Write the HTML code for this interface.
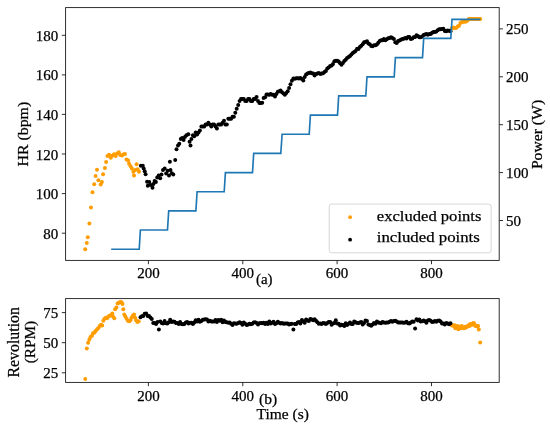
<!DOCTYPE html>
<html><head><meta charset="utf-8"><title>HR and Power plot</title>
<style>html,body{margin:0;padding:0;background:#fff}body{width:550px;height:428px;overflow:hidden}</style></head>
<body>
<svg width="550" height="428" viewBox="0 0 550 428" style="display:block">
<rect width="550" height="428" fill="#fff"/>
<g fill="#ff9d00"><circle cx="85.2" cy="249.3" r="1.98"/><circle cx="86.8" cy="242.9" r="1.98"/><circle cx="87.8" cy="237.3" r="1.98"/><circle cx="89.4" cy="223.6" r="1.98"/><circle cx="91.0" cy="207.6" r="1.98"/><circle cx="92.5" cy="192.2" r="1.98"/><circle cx="94.2" cy="184.2" r="1.98"/><circle cx="95.6" cy="176.1" r="1.98"/><circle cx="97.0" cy="169.8" r="1.98"/><circle cx="98.4" cy="180.3" r="1.98"/><circle cx="100.7" cy="184.5" r="1.98"/><circle cx="101.9" cy="182.0" r="1.98"/><circle cx="103.1" cy="174.2" r="1.98"/><circle cx="104.9" cy="168.1" r="1.98"/><circle cx="106.1" cy="162.0" r="1.98"/><circle cx="107.5" cy="156.0" r="1.98"/><circle cx="109.1" cy="154.7" r="1.98"/><circle cx="110.8" cy="157.8" r="1.98"/><circle cx="112.2" cy="155.7" r="1.98"/><circle cx="114.0" cy="154.3" r="1.98"/><circle cx="115.7" cy="156.0" r="1.98"/><circle cx="117.1" cy="153.6" r="1.98"/><circle cx="118.8" cy="152.2" r="1.98"/><circle cx="120.2" cy="155.0" r="1.98"/><circle cx="122.0" cy="155.4" r="1.98"/><circle cx="123.8" cy="154.3" r="1.98"/><circle cx="125.0" cy="154.0" r="1.98"/><circle cx="126.5" cy="159.6" r="1.98"/><circle cx="128.2" cy="160.5" r="1.98"/><circle cx="129.1" cy="163.7" r="1.98"/><circle cx="130.6" cy="166.2" r="1.98"/><circle cx="131.9" cy="168.6" r="1.98"/><circle cx="133.4" cy="171.8" r="1.98"/><circle cx="134.0" cy="175.5" r="1.98"/><circle cx="135.3" cy="169.9" r="1.98"/><circle cx="136.6" cy="164.3" r="1.98"/><circle cx="137.7" cy="169.3" r="1.98"/><circle cx="139.0" cy="171.8" r="1.98"/><circle cx="451.9" cy="28.6" r="1.98"/><circle cx="453.3" cy="27.6" r="1.98"/><circle cx="454.7" cy="28.1" r="1.98"/><circle cx="456.1" cy="27.9" r="1.98"/><circle cx="457.6" cy="26.5" r="1.98"/><circle cx="459.0" cy="25.8" r="1.98"/><circle cx="460.4" cy="23.1" r="1.98"/><circle cx="461.8" cy="22.1" r="1.98"/><circle cx="463.2" cy="21.7" r="1.98"/><circle cx="464.6" cy="21.7" r="1.98"/><circle cx="466.0" cy="21.6" r="1.98"/><circle cx="467.5" cy="20.5" r="1.98"/><circle cx="468.9" cy="19.0" r="1.98"/><circle cx="470.3" cy="19.0" r="1.98"/><circle cx="471.7" cy="19.0" r="1.98"/><circle cx="473.1" cy="19.0" r="1.98"/><circle cx="474.5" cy="19.0" r="1.98"/><circle cx="476.0" cy="19.0" r="1.98"/><circle cx="477.4" cy="19.0" r="1.98"/><circle cx="478.8" cy="19.0" r="1.98"/><circle cx="480.2" cy="19.0" r="1.98"/></g>
<g fill="#000"><circle cx="140.9" cy="165.8" r="1.98"/><circle cx="142.8" cy="165.8" r="1.98"/><circle cx="143.7" cy="168.6" r="1.98"/><circle cx="144.7" cy="171.2" r="1.98"/><circle cx="145.6" cy="174.2" r="1.98"/><circle cx="147.1" cy="181.7" r="1.98"/><circle cx="147.8" cy="185.8" r="1.98"/><circle cx="149.3" cy="182.1" r="1.98"/><circle cx="150.8" cy="184.9" r="1.98"/><circle cx="152.5" cy="187.7" r="1.98"/><circle cx="153.4" cy="183.9" r="1.98"/><circle cx="154.6" cy="181.1" r="1.98"/><circle cx="155.9" cy="182.1" r="1.98"/><circle cx="157.2" cy="177.4" r="1.98"/><circle cx="158.7" cy="175.5" r="1.98"/><circle cx="160.2" cy="178.3" r="1.98"/><circle cx="161.5" cy="174.6" r="1.98"/><circle cx="163.0" cy="169.9" r="1.98"/><circle cx="164.7" cy="168.6" r="1.98"/><circle cx="166.2" cy="173.6" r="1.98"/><circle cx="167.7" cy="170.8" r="1.98"/><circle cx="169.0" cy="175.5" r="1.98"/><circle cx="170.5" cy="169.9" r="1.98"/><circle cx="169.9" cy="161.8" r="1.98"/><circle cx="171.8" cy="173.3" r="1.98"/><circle cx="173.3" cy="174.6" r="1.98"/><circle cx="175.2" cy="160.0" r="1.98"/><circle cx="176.5" cy="149.3" r="1.98"/><circle cx="178.0" cy="145.6" r="1.98"/><circle cx="179.3" cy="143.7" r="1.98"/><circle cx="180.8" cy="139.0" r="1.98"/><circle cx="182.1" cy="138.1" r="1.98"/><circle cx="183.6" cy="140.0" r="1.98"/><circle cx="184.9" cy="137.1" r="1.98"/><circle cx="186.4" cy="135.3" r="1.98"/><circle cx="188.3" cy="134.3" r="1.98"/><circle cx="189.6" cy="141.8" r="1.98"/><circle cx="190.5" cy="145.6" r="1.98"/><circle cx="191.4" cy="139.0" r="1.98"/><circle cx="192.9" cy="135.3" r="1.98"/><circle cx="194.3" cy="136.2" r="1.98"/><circle cx="195.7" cy="132.6" r="1.98"/><circle cx="197.1" cy="134.5" r="1.98"/><circle cx="198.5" cy="132.6" r="1.98"/><circle cx="199.9" cy="130.6" r="1.98"/><circle cx="201.4" cy="126.6" r="1.98"/><circle cx="202.8" cy="126.6" r="1.98"/><circle cx="204.2" cy="126.6" r="1.98"/><circle cx="205.6" cy="124.6" r="1.98"/><circle cx="207.0" cy="124.6" r="1.98"/><circle cx="208.4" cy="122.7" r="1.98"/><circle cx="209.9" cy="124.6" r="1.98"/><circle cx="211.3" cy="126.6" r="1.98"/><circle cx="212.7" cy="124.6" r="1.98"/><circle cx="214.1" cy="124.6" r="1.98"/><circle cx="215.5" cy="126.6" r="1.98"/><circle cx="216.9" cy="128.6" r="1.98"/><circle cx="218.3" cy="124.6" r="1.98"/><circle cx="219.8" cy="124.6" r="1.98"/><circle cx="221.2" cy="124.6" r="1.98"/><circle cx="222.6" cy="122.7" r="1.98"/><circle cx="224.0" cy="120.7" r="1.98"/><circle cx="225.4" cy="124.6" r="1.98"/><circle cx="226.8" cy="124.6" r="1.98"/><circle cx="228.3" cy="118.7" r="1.98"/><circle cx="229.7" cy="118.7" r="1.98"/><circle cx="231.1" cy="118.7" r="1.98"/><circle cx="232.5" cy="116.7" r="1.98"/><circle cx="233.9" cy="116.7" r="1.98"/><circle cx="235.3" cy="112.8" r="1.98"/><circle cx="236.7" cy="108.8" r="1.98"/><circle cx="238.2" cy="104.9" r="1.98"/><circle cx="239.6" cy="100.9" r="1.98"/><circle cx="241.0" cy="98.9" r="1.98"/><circle cx="242.4" cy="98.9" r="1.98"/><circle cx="243.8" cy="98.9" r="1.98"/><circle cx="245.2" cy="100.9" r="1.98"/><circle cx="246.7" cy="100.9" r="1.98"/><circle cx="248.1" cy="98.9" r="1.98"/><circle cx="249.5" cy="98.9" r="1.98"/><circle cx="250.9" cy="100.9" r="1.98"/><circle cx="252.3" cy="100.9" r="1.98"/><circle cx="253.7" cy="98.9" r="1.98"/><circle cx="255.1" cy="98.9" r="1.98"/><circle cx="256.6" cy="96.9" r="1.98"/><circle cx="258.0" cy="100.9" r="1.98"/><circle cx="259.4" cy="102.9" r="1.98"/><circle cx="260.8" cy="102.9" r="1.98"/><circle cx="262.2" cy="102.8" r="1.98"/><circle cx="263.6" cy="97.9" r="1.98"/><circle cx="265.1" cy="97.3" r="1.98"/><circle cx="266.5" cy="94.5" r="1.98"/><circle cx="267.9" cy="94.5" r="1.98"/><circle cx="269.3" cy="94.8" r="1.98"/><circle cx="270.7" cy="93.9" r="1.98"/><circle cx="272.1" cy="94.8" r="1.98"/><circle cx="273.5" cy="94.7" r="1.98"/><circle cx="275.0" cy="96.6" r="1.98"/><circle cx="276.4" cy="94.0" r="1.98"/><circle cx="277.8" cy="91.8" r="1.98"/><circle cx="279.2" cy="91.3" r="1.98"/><circle cx="280.6" cy="90.6" r="1.98"/><circle cx="282.0" cy="92.3" r="1.98"/><circle cx="283.5" cy="93.4" r="1.98"/><circle cx="284.9" cy="94.7" r="1.98"/><circle cx="286.3" cy="93.1" r="1.98"/><circle cx="287.7" cy="91.2" r="1.98"/><circle cx="289.1" cy="87.9" r="1.98"/><circle cx="290.5" cy="84.2" r="1.98"/><circle cx="291.9" cy="80.8" r="1.98"/><circle cx="293.4" cy="78.6" r="1.98"/><circle cx="294.8" cy="78.8" r="1.98"/><circle cx="296.2" cy="78.2" r="1.98"/><circle cx="297.6" cy="78.3" r="1.98"/><circle cx="299.0" cy="78.4" r="1.98"/><circle cx="300.4" cy="78.1" r="1.98"/><circle cx="301.9" cy="79.0" r="1.98"/><circle cx="303.3" cy="80.4" r="1.98"/><circle cx="304.7" cy="76.9" r="1.98"/><circle cx="306.1" cy="74.6" r="1.98"/><circle cx="307.5" cy="73.6" r="1.98"/><circle cx="308.9" cy="73.0" r="1.98"/><circle cx="310.3" cy="72.4" r="1.98"/><circle cx="311.8" cy="73.3" r="1.98"/><circle cx="313.2" cy="73.4" r="1.98"/><circle cx="314.6" cy="75.6" r="1.98"/><circle cx="316.0" cy="73.9" r="1.98"/><circle cx="317.4" cy="73.6" r="1.98"/><circle cx="318.8" cy="72.9" r="1.98"/><circle cx="320.3" cy="74.1" r="1.98"/><circle cx="321.7" cy="73.5" r="1.98"/><circle cx="323.1" cy="73.3" r="1.98"/><circle cx="324.5" cy="72.1" r="1.98"/><circle cx="325.9" cy="71.0" r="1.98"/><circle cx="327.3" cy="68.6" r="1.98"/><circle cx="328.7" cy="67.4" r="1.98"/><circle cx="330.2" cy="65.9" r="1.98"/><circle cx="331.6" cy="65.4" r="1.98"/><circle cx="333.0" cy="64.1" r="1.98"/><circle cx="334.4" cy="61.3" r="1.98"/><circle cx="335.8" cy="60.7" r="1.98"/><circle cx="337.2" cy="60.8" r="1.98"/><circle cx="338.7" cy="61.4" r="1.98"/><circle cx="340.1" cy="63.2" r="1.98"/><circle cx="341.5" cy="64.8" r="1.98"/><circle cx="342.9" cy="63.0" r="1.98"/><circle cx="344.3" cy="61.0" r="1.98"/><circle cx="345.7" cy="59.8" r="1.98"/><circle cx="347.1" cy="57.9" r="1.98"/><circle cx="348.6" cy="56.9" r="1.98"/><circle cx="350.0" cy="56.1" r="1.98"/><circle cx="351.4" cy="54.5" r="1.98"/><circle cx="352.8" cy="52.9" r="1.98"/><circle cx="354.2" cy="51.9" r="1.98"/><circle cx="355.6" cy="50.9" r="1.98"/><circle cx="357.1" cy="48.7" r="1.98"/><circle cx="358.5" cy="48.9" r="1.98"/><circle cx="359.9" cy="47.1" r="1.98"/><circle cx="361.3" cy="45.7" r="1.98"/><circle cx="362.7" cy="44.3" r="1.98"/><circle cx="364.1" cy="42.3" r="1.98"/><circle cx="365.5" cy="41.9" r="1.98"/><circle cx="367.0" cy="41.2" r="1.98"/><circle cx="368.4" cy="43.5" r="1.98"/><circle cx="369.8" cy="44.2" r="1.98"/><circle cx="371.2" cy="46.0" r="1.98"/><circle cx="372.6" cy="46.2" r="1.98"/><circle cx="374.0" cy="45.3" r="1.98"/><circle cx="375.5" cy="45.3" r="1.98"/><circle cx="376.9" cy="44.5" r="1.98"/><circle cx="378.3" cy="42.7" r="1.98"/><circle cx="379.7" cy="41.1" r="1.98"/><circle cx="381.1" cy="40.2" r="1.98"/><circle cx="382.5" cy="40.2" r="1.98"/><circle cx="383.9" cy="39.1" r="1.98"/><circle cx="385.4" cy="40.2" r="1.98"/><circle cx="386.8" cy="39.3" r="1.98"/><circle cx="388.2" cy="38.2" r="1.98"/><circle cx="389.6" cy="37.9" r="1.98"/><circle cx="391.0" cy="37.2" r="1.98"/><circle cx="392.4" cy="38.0" r="1.98"/><circle cx="393.9" cy="39.0" r="1.98"/><circle cx="395.3" cy="42.3" r="1.98"/><circle cx="396.7" cy="43.0" r="1.98"/><circle cx="398.1" cy="41.0" r="1.98"/><circle cx="399.5" cy="40.4" r="1.98"/><circle cx="400.9" cy="39.8" r="1.98"/><circle cx="402.3" cy="39.1" r="1.98"/><circle cx="403.8" cy="38.7" r="1.98"/><circle cx="405.2" cy="38.0" r="1.98"/><circle cx="406.6" cy="38.6" r="1.98"/><circle cx="408.0" cy="37.0" r="1.98"/><circle cx="409.4" cy="36.9" r="1.98"/><circle cx="410.8" cy="38.9" r="1.98"/><circle cx="412.3" cy="38.5" r="1.98"/><circle cx="413.7" cy="37.3" r="1.98"/><circle cx="415.1" cy="37.0" r="1.98"/><circle cx="416.5" cy="35.2" r="1.98"/><circle cx="417.9" cy="36.1" r="1.98"/><circle cx="419.3" cy="37.2" r="1.98"/><circle cx="420.7" cy="37.3" r="1.98"/><circle cx="422.2" cy="36.5" r="1.98"/><circle cx="423.6" cy="35.0" r="1.98"/><circle cx="425.0" cy="34.6" r="1.98"/><circle cx="426.4" cy="33.9" r="1.98"/><circle cx="427.8" cy="34.7" r="1.98"/><circle cx="429.2" cy="33.9" r="1.98"/><circle cx="430.7" cy="33.9" r="1.98"/><circle cx="432.1" cy="32.7" r="1.98"/><circle cx="433.5" cy="31.9" r="1.98"/><circle cx="434.9" cy="32.1" r="1.98"/><circle cx="436.3" cy="31.4" r="1.98"/><circle cx="437.7" cy="30.2" r="1.98"/><circle cx="439.2" cy="29.3" r="1.98"/><circle cx="440.6" cy="29.2" r="1.98"/><circle cx="442.0" cy="29.0" r="1.98"/><circle cx="443.4" cy="28.8" r="1.98"/><circle cx="444.8" cy="30.9" r="1.98"/><circle cx="446.2" cy="31.2" r="1.98"/><circle cx="447.6" cy="30.6" r="1.98"/><circle cx="449.1" cy="30.7" r="1.98"/><circle cx="450.5" cy="31.2" r="1.98"/></g>

<path d="M111.2 249.2 H139.2 L140.4 230.0 H167.5 L168.7 210.9 H195.9 L197.1 191.7 H224.2 L225.4 172.6 H252.5 L253.7 153.4 H280.8 L282.1 134.2 H309.2 L310.4 115.1 H337.5 L338.7 95.9 H365.8 L367.0 76.8 H394.2 L395.4 57.6 H422.5 L423.7 38.4 H450.8 L452.0 19.3 H480.4" fill="none" stroke="#1f77b4" stroke-width="1.65" stroke-linejoin="miter"/>
<g fill="none" stroke="#1a1a1a" stroke-width="0.9">
<rect x="65.6" y="7.6" width="433.6" height="252.8"/>
<rect x="65.6" y="298.6" width="433.6" height="83.8"/>
<path d="M148.4 260.4v3.8"/>
<path d="M148.4 382.4v3.8"/>
<path d="M242.8 260.4v3.8"/>
<path d="M242.8 382.4v3.8"/>
<path d="M337.1 260.4v3.8"/>
<path d="M337.1 382.4v3.8"/>
<path d="M431.5 260.4v3.8"/>
<path d="M431.5 382.4v3.8"/>
<path d="M65.6 233.2h-3.8"/>
<path d="M65.6 193.6h-3.8"/>
<path d="M65.6 154.0h-3.8"/>
<path d="M65.6 114.4h-3.8"/>
<path d="M65.6 74.9h-3.8"/>
<path d="M65.6 35.3h-3.8"/>
<path d="M499.2 220.5h3.8"/>
<path d="M499.2 172.6h3.8"/>
<path d="M499.2 124.7h3.8"/>
<path d="M499.2 76.8h3.8"/>
<path d="M499.2 28.9h3.8"/>
<path d="M65.6 372.8h-3.8"/>
<path d="M65.6 342.7h-3.8"/>
<path d="M65.6 312.6h-3.8"/>
</g>
<g fill="#ff9d00"><circle cx="85.3" cy="379.1" r="1.98"/><circle cx="86.8" cy="348.6" r="1.98"/><circle cx="88.1" cy="342.7" r="1.98"/><circle cx="89.4" cy="339.6" r="1.98"/><circle cx="90.4" cy="337.0" r="1.98"/><circle cx="92.0" cy="335.7" r="1.98"/><circle cx="93.0" cy="333.2" r="1.98"/><circle cx="94.5" cy="332.4" r="1.98"/><circle cx="95.6" cy="331.1" r="1.98"/><circle cx="97.1" cy="329.3" r="1.98"/><circle cx="98.4" cy="328.0" r="1.98"/><circle cx="99.7" cy="326.0" r="1.98"/><circle cx="101.0" cy="324.7" r="1.98"/><circle cx="102.2" cy="325.4" r="1.98"/><circle cx="103.3" cy="320.8" r="1.98"/><circle cx="104.5" cy="318.8" r="1.98"/><circle cx="105.8" cy="317.7" r="1.98"/><circle cx="107.1" cy="318.3" r="1.98"/><circle cx="108.4" cy="316.5" r="1.98"/><circle cx="109.7" cy="315.7" r="1.98"/><circle cx="111.0" cy="315.2" r="1.98"/><circle cx="112.3" cy="313.6" r="1.98"/><circle cx="113.0" cy="316.5" r="1.98"/><circle cx="114.3" cy="318.3" r="1.98"/><circle cx="115.1" cy="309.3" r="1.98"/><circle cx="116.4" cy="307.5" r="1.98"/><circle cx="117.6" cy="303.4" r="1.98"/><circle cx="118.9" cy="302.8" r="1.98"/><circle cx="120.2" cy="302.1" r="1.98"/><circle cx="121.5" cy="302.3" r="1.98"/><circle cx="122.5" cy="304.1" r="1.98"/><circle cx="123.3" cy="309.3" r="1.98"/><circle cx="124.3" cy="314.4" r="1.98"/><circle cx="125.4" cy="316.5" r="1.98"/><circle cx="126.6" cy="318.8" r="1.98"/><circle cx="127.9" cy="320.8" r="1.98"/><circle cx="129.2" cy="321.3" r="1.98"/><circle cx="130.5" cy="320.3" r="1.98"/><circle cx="131.5" cy="317.7" r="1.98"/><circle cx="132.8" cy="315.7" r="1.98"/><circle cx="134.1" cy="314.4" r="1.98"/><circle cx="135.1" cy="317.7" r="1.98"/><circle cx="136.1" cy="320.3" r="1.98"/><circle cx="137.4" cy="322.1" r="1.98"/><circle cx="138.7" cy="321.3" r="1.98"/><circle cx="451.9" cy="325.4" r="1.98"/><circle cx="453.3" cy="325.5" r="1.98"/><circle cx="454.0" cy="326.1" r="1.98"/><circle cx="454.7" cy="325.2" r="1.98"/><circle cx="455.4" cy="328.3" r="1.98"/><circle cx="456.1" cy="327.4" r="1.98"/><circle cx="456.8" cy="326.1" r="1.98"/><circle cx="457.6" cy="326.6" r="1.98"/><circle cx="458.3" cy="329.2" r="1.98"/><circle cx="459.0" cy="326.4" r="1.98"/><circle cx="459.7" cy="327.8" r="1.98"/><circle cx="460.4" cy="328.2" r="1.98"/><circle cx="461.1" cy="327.3" r="1.98"/><circle cx="461.8" cy="326.1" r="1.98"/><circle cx="462.5" cy="327.8" r="1.98"/><circle cx="463.2" cy="327.8" r="1.98"/><circle cx="463.9" cy="328.3" r="1.98"/><circle cx="464.6" cy="327.8" r="1.98"/><circle cx="465.3" cy="326.7" r="1.98"/><circle cx="466.0" cy="327.4" r="1.98"/><circle cx="466.8" cy="326.7" r="1.98"/><circle cx="467.5" cy="326.2" r="1.98"/><circle cx="468.2" cy="325.8" r="1.98"/><circle cx="468.9" cy="325.3" r="1.98"/><circle cx="469.6" cy="326.0" r="1.98"/><circle cx="470.3" cy="324.0" r="1.98"/><circle cx="471.0" cy="324.3" r="1.98"/><circle cx="471.7" cy="324.8" r="1.98"/><circle cx="472.4" cy="323.4" r="1.98"/><circle cx="473.1" cy="324.5" r="1.98"/><circle cx="473.8" cy="323.0" r="1.98"/><circle cx="474.5" cy="324.3" r="1.98"/><circle cx="475.2" cy="325.7" r="1.98"/><circle cx="476.0" cy="326.1" r="1.98"/><circle cx="476.7" cy="326.1" r="1.98"/><circle cx="477.4" cy="326.6" r="1.98"/><circle cx="478.1" cy="326.1" r="1.98"/><circle cx="478.8" cy="329.5" r="1.98"/><circle cx="480.2" cy="342.6" r="1.98"/></g>
<g fill="#000"><circle cx="140.5" cy="317.3" r="1.98"/><circle cx="141.9" cy="316.3" r="1.98"/><circle cx="143.3" cy="316.0" r="1.98"/><circle cx="144.7" cy="313.8" r="1.98"/><circle cx="146.2" cy="313.4" r="1.98"/><circle cx="147.6" cy="316.0" r="1.98"/><circle cx="149.0" cy="315.9" r="1.98"/><circle cx="150.4" cy="317.6" r="1.98"/><circle cx="151.8" cy="319.0" r="1.98"/><circle cx="153.2" cy="323.0" r="1.98"/><circle cx="154.7" cy="323.1" r="1.98"/><circle cx="156.1" cy="324.0" r="1.98"/><circle cx="157.5" cy="322.1" r="1.98"/><circle cx="158.9" cy="329.6" r="1.98"/><circle cx="160.3" cy="321.6" r="1.98"/><circle cx="161.7" cy="323.0" r="1.98"/><circle cx="163.1" cy="323.4" r="1.98"/><circle cx="164.6" cy="321.1" r="1.98"/><circle cx="166.0" cy="323.3" r="1.98"/><circle cx="167.4" cy="323.5" r="1.98"/><circle cx="168.8" cy="322.2" r="1.98"/><circle cx="170.2" cy="319.8" r="1.98"/><circle cx="171.6" cy="322.1" r="1.98"/><circle cx="173.1" cy="321.5" r="1.98"/><circle cx="174.5" cy="321.8" r="1.98"/><circle cx="175.9" cy="322.9" r="1.98"/><circle cx="177.3" cy="323.1" r="1.98"/><circle cx="178.7" cy="324.1" r="1.98"/><circle cx="180.1" cy="322.0" r="1.98"/><circle cx="181.5" cy="323.9" r="1.98"/><circle cx="183.0" cy="324.2" r="1.98"/><circle cx="184.4" cy="324.1" r="1.98"/><circle cx="185.8" cy="322.6" r="1.98"/><circle cx="187.2" cy="322.0" r="1.98"/><circle cx="188.6" cy="323.4" r="1.98"/><circle cx="190.0" cy="322.7" r="1.98"/><circle cx="191.5" cy="322.8" r="1.98"/><circle cx="192.9" cy="324.0" r="1.98"/><circle cx="194.3" cy="322.5" r="1.98"/><circle cx="195.7" cy="320.3" r="1.98"/><circle cx="197.1" cy="321.5" r="1.98"/><circle cx="198.5" cy="319.7" r="1.98"/><circle cx="199.9" cy="321.7" r="1.98"/><circle cx="201.4" cy="320.9" r="1.98"/><circle cx="202.8" cy="319.7" r="1.98"/><circle cx="204.2" cy="319.5" r="1.98"/><circle cx="205.6" cy="319.2" r="1.98"/><circle cx="207.0" cy="319.4" r="1.98"/><circle cx="208.4" cy="321.4" r="1.98"/><circle cx="209.9" cy="320.7" r="1.98"/><circle cx="211.3" cy="321.4" r="1.98"/><circle cx="212.7" cy="321.5" r="1.98"/><circle cx="214.1" cy="321.5" r="1.98"/><circle cx="215.5" cy="320.1" r="1.98"/><circle cx="216.9" cy="321.9" r="1.98"/><circle cx="218.3" cy="320.0" r="1.98"/><circle cx="219.8" cy="320.7" r="1.98"/><circle cx="221.2" cy="319.8" r="1.98"/><circle cx="222.6" cy="322.3" r="1.98"/><circle cx="224.0" cy="320.5" r="1.98"/><circle cx="225.4" cy="322.0" r="1.98"/><circle cx="226.8" cy="322.3" r="1.98"/><circle cx="228.3" cy="322.8" r="1.98"/><circle cx="229.7" cy="322.6" r="1.98"/><circle cx="231.1" cy="323.7" r="1.98"/><circle cx="232.5" cy="325.0" r="1.98"/><circle cx="233.9" cy="323.3" r="1.98"/><circle cx="235.3" cy="323.5" r="1.98"/><circle cx="236.7" cy="323.8" r="1.98"/><circle cx="238.2" cy="323.0" r="1.98"/><circle cx="239.6" cy="322.3" r="1.98"/><circle cx="241.0" cy="323.1" r="1.98"/><circle cx="242.4" cy="324.7" r="1.98"/><circle cx="243.8" cy="322.6" r="1.98"/><circle cx="245.2" cy="323.7" r="1.98"/><circle cx="246.7" cy="325.0" r="1.98"/><circle cx="248.1" cy="324.6" r="1.98"/><circle cx="249.5" cy="323.8" r="1.98"/><circle cx="250.9" cy="324.3" r="1.98"/><circle cx="252.3" cy="323.7" r="1.98"/><circle cx="253.7" cy="322.6" r="1.98"/><circle cx="255.1" cy="322.3" r="1.98"/><circle cx="256.6" cy="323.1" r="1.98"/><circle cx="258.0" cy="324.4" r="1.98"/><circle cx="259.4" cy="323.3" r="1.98"/><circle cx="260.8" cy="323.1" r="1.98"/><circle cx="262.2" cy="323.3" r="1.98"/><circle cx="263.6" cy="322.8" r="1.98"/><circle cx="265.1" cy="323.9" r="1.98"/><circle cx="266.5" cy="322.8" r="1.98"/><circle cx="267.9" cy="323.9" r="1.98"/><circle cx="269.3" cy="321.4" r="1.98"/><circle cx="270.7" cy="323.6" r="1.98"/><circle cx="272.1" cy="322.7" r="1.98"/><circle cx="273.5" cy="321.7" r="1.98"/><circle cx="275.0" cy="324.0" r="1.98"/><circle cx="276.4" cy="323.3" r="1.98"/><circle cx="277.8" cy="321.7" r="1.98"/><circle cx="279.2" cy="322.8" r="1.98"/><circle cx="280.6" cy="323.6" r="1.98"/><circle cx="282.0" cy="322.9" r="1.98"/><circle cx="283.5" cy="323.8" r="1.98"/><circle cx="284.9" cy="323.6" r="1.98"/><circle cx="286.3" cy="323.6" r="1.98"/><circle cx="287.7" cy="323.5" r="1.98"/><circle cx="289.1" cy="324.6" r="1.98"/><circle cx="290.5" cy="324.1" r="1.98"/><circle cx="291.9" cy="323.8" r="1.98"/><circle cx="293.4" cy="329.6" r="1.98"/><circle cx="294.8" cy="323.9" r="1.98"/><circle cx="296.2" cy="324.1" r="1.98"/><circle cx="297.6" cy="322.5" r="1.98"/><circle cx="299.0" cy="321.9" r="1.98"/><circle cx="300.4" cy="323.5" r="1.98"/><circle cx="301.9" cy="319.9" r="1.98"/><circle cx="303.3" cy="321.4" r="1.98"/><circle cx="304.7" cy="322.7" r="1.98"/><circle cx="306.1" cy="319.5" r="1.98"/><circle cx="307.5" cy="320.5" r="1.98"/><circle cx="308.9" cy="321.1" r="1.98"/><circle cx="310.3" cy="319.1" r="1.98"/><circle cx="311.8" cy="319.5" r="1.98"/><circle cx="313.2" cy="320.2" r="1.98"/><circle cx="314.6" cy="319.2" r="1.98"/><circle cx="316.0" cy="320.8" r="1.98"/><circle cx="317.4" cy="322.2" r="1.98"/><circle cx="318.8" cy="323.7" r="1.98"/><circle cx="320.3" cy="323.5" r="1.98"/><circle cx="321.7" cy="324.0" r="1.98"/><circle cx="323.1" cy="323.1" r="1.98"/><circle cx="324.5" cy="323.3" r="1.98"/><circle cx="325.9" cy="323.9" r="1.98"/><circle cx="327.3" cy="322.9" r="1.98"/><circle cx="328.7" cy="322.0" r="1.98"/><circle cx="330.2" cy="321.9" r="1.98"/><circle cx="331.6" cy="324.8" r="1.98"/><circle cx="333.0" cy="323.5" r="1.98"/><circle cx="334.4" cy="323.0" r="1.98"/><circle cx="335.8" cy="320.3" r="1.98"/><circle cx="337.2" cy="323.4" r="1.98"/><circle cx="338.7" cy="323.8" r="1.98"/><circle cx="340.1" cy="325.4" r="1.98"/><circle cx="341.5" cy="324.8" r="1.98"/><circle cx="342.9" cy="324.9" r="1.98"/><circle cx="344.3" cy="325.9" r="1.98"/><circle cx="345.7" cy="323.2" r="1.98"/><circle cx="347.1" cy="325.0" r="1.98"/><circle cx="348.6" cy="323.8" r="1.98"/><circle cx="350.0" cy="322.6" r="1.98"/><circle cx="351.4" cy="324.0" r="1.98"/><circle cx="352.8" cy="324.0" r="1.98"/><circle cx="354.2" cy="321.4" r="1.98"/><circle cx="355.6" cy="322.2" r="1.98"/><circle cx="357.1" cy="323.1" r="1.98"/><circle cx="358.5" cy="323.1" r="1.98"/><circle cx="359.9" cy="322.6" r="1.98"/><circle cx="361.3" cy="322.1" r="1.98"/><circle cx="362.7" cy="324.5" r="1.98"/><circle cx="364.1" cy="322.9" r="1.98"/><circle cx="365.5" cy="320.4" r="1.98"/><circle cx="367.0" cy="321.0" r="1.98"/><circle cx="368.4" cy="324.6" r="1.98"/><circle cx="369.8" cy="325.0" r="1.98"/><circle cx="371.2" cy="325.7" r="1.98"/><circle cx="372.6" cy="324.6" r="1.98"/><circle cx="374.0" cy="323.0" r="1.98"/><circle cx="375.5" cy="323.7" r="1.98"/><circle cx="376.9" cy="321.4" r="1.98"/><circle cx="378.3" cy="322.4" r="1.98"/><circle cx="379.7" cy="322.8" r="1.98"/><circle cx="381.1" cy="323.2" r="1.98"/><circle cx="382.5" cy="322.0" r="1.98"/><circle cx="383.9" cy="322.4" r="1.98"/><circle cx="385.4" cy="322.7" r="1.98"/><circle cx="386.8" cy="322.4" r="1.98"/><circle cx="388.2" cy="322.4" r="1.98"/><circle cx="389.6" cy="321.7" r="1.98"/><circle cx="391.0" cy="321.0" r="1.98"/><circle cx="392.4" cy="321.7" r="1.98"/><circle cx="393.9" cy="320.9" r="1.98"/><circle cx="395.3" cy="320.7" r="1.98"/><circle cx="396.7" cy="321.4" r="1.98"/><circle cx="398.1" cy="322.4" r="1.98"/><circle cx="399.5" cy="322.4" r="1.98"/><circle cx="400.9" cy="322.6" r="1.98"/><circle cx="402.3" cy="322.5" r="1.98"/><circle cx="403.8" cy="322.7" r="1.98"/><circle cx="405.2" cy="322.6" r="1.98"/><circle cx="406.6" cy="321.7" r="1.98"/><circle cx="408.0" cy="323.2" r="1.98"/><circle cx="409.4" cy="323.4" r="1.98"/><circle cx="410.8" cy="322.5" r="1.98"/><circle cx="412.3" cy="321.6" r="1.98"/><circle cx="413.7" cy="321.8" r="1.98"/><circle cx="415.1" cy="328.4" r="1.98"/><circle cx="416.5" cy="319.2" r="1.98"/><circle cx="417.9" cy="320.5" r="1.98"/><circle cx="419.3" cy="319.4" r="1.98"/><circle cx="420.7" cy="321.6" r="1.98"/><circle cx="422.2" cy="321.2" r="1.98"/><circle cx="423.6" cy="320.5" r="1.98"/><circle cx="425.0" cy="321.2" r="1.98"/><circle cx="426.4" cy="322.8" r="1.98"/><circle cx="427.8" cy="320.5" r="1.98"/><circle cx="429.2" cy="319.9" r="1.98"/><circle cx="430.7" cy="320.7" r="1.98"/><circle cx="432.1" cy="322.0" r="1.98"/><circle cx="433.5" cy="321.8" r="1.98"/><circle cx="434.9" cy="321.1" r="1.98"/><circle cx="436.3" cy="321.7" r="1.98"/><circle cx="437.7" cy="320.8" r="1.98"/><circle cx="439.2" cy="320.6" r="1.98"/><circle cx="440.6" cy="321.6" r="1.98"/><circle cx="442.0" cy="323.4" r="1.98"/><circle cx="443.4" cy="323.6" r="1.98"/><circle cx="444.8" cy="324.5" r="1.98"/><circle cx="446.2" cy="322.9" r="1.98"/><circle cx="447.6" cy="323.5" r="1.98"/><circle cx="449.1" cy="324.2" r="1.98"/><circle cx="450.5" cy="323.2" r="1.98"/></g>

<g font-family="'Liberation Serif', serif" font-size="15" fill="#000" stroke="#000" stroke-width="0.25">
<text x="148.4" y="278.3" text-anchor="middle">200</text>
<text x="148.4" y="400.5" text-anchor="middle">200</text>
<text x="242.8" y="278.3" text-anchor="middle">400</text>
<text x="242.8" y="400.5" text-anchor="middle">400</text>
<text x="337.1" y="278.3" text-anchor="middle">600</text>
<text x="337.1" y="400.5" text-anchor="middle">600</text>
<text x="431.5" y="278.3" text-anchor="middle">800</text>
<text x="431.5" y="400.5" text-anchor="middle">800</text>
<text x="58.2" y="238.7" text-anchor="end">80</text>
<text x="58.2" y="199.1" text-anchor="end">100</text>
<text x="58.2" y="159.5" text-anchor="end">120</text>
<text x="58.2" y="119.9" text-anchor="end">140</text>
<text x="58.2" y="80.4" text-anchor="end">160</text>
<text x="58.2" y="40.8" text-anchor="end">180</text>
<text x="506" y="225.9">50</text>
<text x="506" y="178.0">100</text>
<text x="506" y="130.1">150</text>
<text x="506" y="82.2">200</text>
<text x="506" y="34.3">250</text>
<text x="58.2" y="377.9" text-anchor="end">25</text>
<text x="58.2" y="347.8" text-anchor="end">50</text>
<text x="58.2" y="317.8" text-anchor="end">75</text>
</g>
<g font-family="'Liberation Serif', serif" font-size="16" fill="#000" stroke="#000" stroke-width="0.25">
<text x="256" y="283.8" font-size="15.3" textLength="16.6" lengthAdjust="spacingAndGlyphs">(a)</text>
<text x="259" y="404" font-size="15.3" textLength="18.2" lengthAdjust="spacingAndGlyphs">(b)</text>
<text x="256.6" y="419.2" font-size="15.3" textLength="52.2" lengthAdjust="spacingAndGlyphs">Time (s)</text>
<text transform="translate(27.8 134.1) rotate(-90)" text-anchor="middle" font-size="15.3" textLength="64.6" lengthAdjust="spacingAndGlyphs">HR (bpm)</text>
<text transform="translate(542.4 134.5) rotate(-90)" text-anchor="middle" font-size="15.3" textLength="69.2" lengthAdjust="spacingAndGlyphs">Power (W)</text>
<text transform="translate(18.6 342.3) rotate(-90)" text-anchor="middle" textLength="70.5" lengthAdjust="spacingAndGlyphs">Revolution</text>
<text transform="translate(34.8 342.1) rotate(-90)" text-anchor="middle" font-size="15.3">(RPM)</text>
<rect x="329.2" y="204.1" width="161.9" height="48.7" rx="2.5" fill="#fff" fill-opacity="0.8" stroke="#ccc" stroke-opacity="0.8" stroke-width="1"/>
<circle cx="350.1" cy="217.2" r="1.9" fill="#ff9d00" stroke="none"/>
<circle cx="350.1" cy="239.7" r="1.9" fill="#000" stroke="none"/>
<text x="376.8" y="220.5" font-size="15.6" textLength="104.6" lengthAdjust="spacingAndGlyphs">excluded points</text>
<text x="376.8" y="242.3" font-size="15.6" textLength="103" lengthAdjust="spacingAndGlyphs">included points</text>
</g>
</svg>
</body></html>
